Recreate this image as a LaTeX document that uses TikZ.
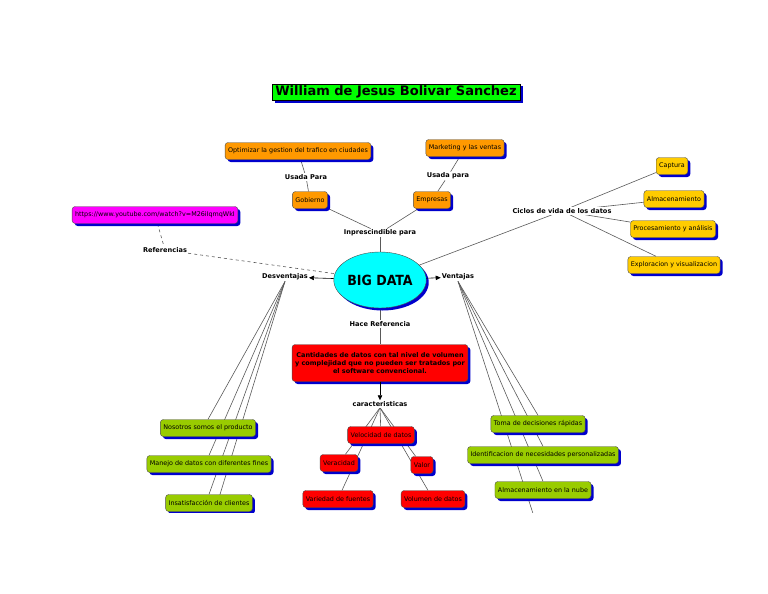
\documentclass[tikz,border=0pt]{standalone}
\usepackage{fontspec}
\setmainfont{DejaVu Sans}
\newfontfamily\condfont{DejaVu Sans Condensed}
\usetikzlibrary{shadows,backgrounds,arrows.meta,shapes.geometric}
\definecolor{cOr}{HTML}{FF9900}
\definecolor{cYe}{HTML}{FFCC00}
\definecolor{cGr}{HTML}{99CC00}
\definecolor{cRe}{HTML}{FF0000}
\definecolor{cCy}{HTML}{00FFFF}
\definecolor{cMa}{HTML}{FF00FF}
\definecolor{cTi}{HTML}{00FF00}
\definecolor{cSh}{HTML}{0000CC}
\tikzset{
  box/.style={draw=black!70, rounded corners=3pt, font=\fontsize{6.4}{7.5}\selectfont, inner xsep=3pt, inner ysep=2pt, minimum height=17pt,
    drop shadow={fill=cSh, opacity=1, shadow xshift=2.5pt, shadow yshift=-2.5pt}},
  obox/.style={box, fill=cOr},
  ybox/.style={box, fill=cYe},
  gbox/.style={box, fill=cGr},
  rbox/.style={box, fill=cRe},
  lab/.style={font=\fontsize{6.6}{8}\selectfont\bfseries, inner sep=1pt, fill=white},
  ln/.style={draw=black!65, line width=0.6pt},
  arr/.style={ln, -{Triangle[length=5pt,width=4.5pt]}, draw=black}
}
\begin{document}
\begin{tikzpicture}[x=1pt,y=-1pt]
\useasboundingbox (0,0) rectangle (768,594);
\begin{scope}
\clip (0,0) rectangle (768,512);
\node[draw=black, fill=cTi, font=\fontsize{13}{15}\selectfont\bfseries, inner sep=2pt, minimum width=248pt,
  drop shadow={fill=cSh, opacity=1, shadow xshift=2.5pt, shadow yshift=-2.5pt}] (title) at (396,92) {William de Jesus Bolivar Sanchez};

\node[obox] (opt) at (298,151) {Optimizar la gestion del trafico en ciudades};
\node[lab] (up1) at (306,177) {Usada Para};
\node[obox] (gob) at (310,200) {Gobierno};
\node[obox] (mkt) at (465,148) {Marketing y las ventas};
\node[lab] (up2) at (448,176) {Usada para};
\node[obox] (emp) at (432,200) {Empresas};
\node[lab] (inp) at (380,233) {Inprescindible para};
\node[box, fill=cMa] (yt) at (155,215) {https://www.youtube.com/watch?v=M26iIqmqWkI};
\node[lab] (ref) at (165,250) {Referencias};
\node[ellipse, draw=black!70, fill=cCy, minimum width=86pt, minimum height=56pt, font=\condfont\fontsize{14}{16}\selectfont\bfseries, inner sep=0pt,
  drop shadow={fill=cSh, opacity=1, shadow xshift=2.5pt, shadow yshift=-2.5pt}] (bd) at (380,280) {BIG DATA};
\node[lab] (des) at (285,277) {Desventajas};
\node[lab] (ven) at (458,277) {Ventajas};
\node[lab] (cic) at (562,211) {Ciclos de vida de los datos};
\node[ybox] (cap) at (672,166) {Captura};
\node[ybox] (alm) at (674,199) {Almacenamiento};
\node[ybox] (pro) at (673,229) {Procesamiento y análisis};
\node[ybox] (exp) at (674,265) {Exploracion y visualizacion};
\node[lab] (hace) at (380,324) {Hace Referencia};
\node[rbox, font=\fontsize{6.5}{8.3}\selectfont\bfseries, align=center, minimum width=175pt, minimum height=37pt] (def) at (380,363)
  {Cantidades de datos con tal nivel de volumen\\y complejidad que no pueden ser tratados por\\el software convencional.};
\node[lab] (car) at (380,404) {caracteristicas};
\node[rbox] (vel) at (381,435) {Velocidad de datos};
\node[rbox] (ver) at (339,463) {Veracidad};
\node[rbox] (val) at (422,465) {Valor};
\node[rbox] (vari) at (338,499) {Variedad de fuentes};
\node[rbox] (vol) at (433,499) {Volumen de datos};
\node[gbox] (nos) at (208,428) {Nosotros somos el producto};
\node[gbox] (man) at (209,464) {Manejo de datos con diferentes fines};
\node[gbox] (ins) at (209,503) {Insatisfacción de clientes};
\coordinate (dx) at (200,560);
\node[gbox] (tom) at (538,424) {Toma de decisiones rápidas};
\node[gbox] (ide) at (543,455) {Identificacion de necesidades personalizadas};
\node[gbox] (nub) at (543,490) {Almacenamiento en la nube};
\coordinate (vx) at (548,560);
\draw[arr] (bd) -- (des);
\draw[arr] (bd) -- (ven);
\draw[arr] (def) -- (car);
\end{scope}

\begin{scope}[on background layer]
\clip (0,0) rectangle (768,512);
\draw[ln] (up1) -- (opt); \draw[ln] (up1) -- (gob);
\draw[ln] (up2) -- (mkt); \draw[ln] (up2) -- (emp);
\draw[ln] (gob) -- (inp); \draw[ln] (emp) -- (inp); \draw[ln] (inp) -- (bd);
\draw[ln, dashed] (yt) -- (ref); \draw[ln, dashed] (ref) -- (bd);
\draw[ln] (bd) -- (cic);
\foreach \t in {cap,alm,pro,exp} \draw[ln] (cic) -- (\t);
\draw[ln] (bd) -- (hace); \draw[ln] (hace) -- (def);
\foreach \t in {vel,ver,val,vari,vol} \draw[ln] (car.south) -- (\t);
\foreach \t in {nos,man,ins,dx} \draw[ln] (des.south) -- (\t.north);
\foreach \t in {tom,ide,nub,vx} \draw[ln] (ven.south) -- (\t.north);
\end{scope}
\end{tikzpicture}
\end{document}
